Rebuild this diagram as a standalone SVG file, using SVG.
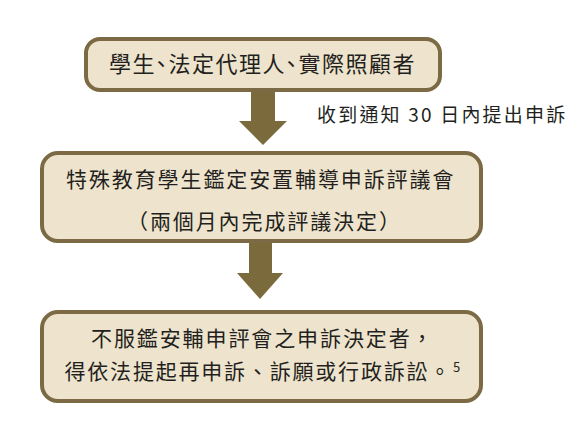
<svg xmlns="http://www.w3.org/2000/svg" width="583" height="422" viewBox="0 0 583 422">
<style>
.box{fill:#eee4cd;stroke:#7b6a44;stroke-width:4}
.arr{fill:#7a6a3c}
.t{font-family:"Noto Sans CJK TC","Noto Sans CJK SC",sans-serif;fill:#231f20}
</style>
<rect width="583" height="422" fill="#ffffff"/>
<g id="connectors">
<polygon class="arr" points="251,92 275,92 275,121 287,121 263,145 239,121 251,121"/>
<polygon class="arr" points="249,243 272,243 272,273 283,273 260,299 237,273 249,273"/>
<text class="t" x="317" y="122" font-size="19" letter-spacing="2.2">收到通知 30 日內提出申訴</text>
</g>
<g id="node1">
<rect class="box" x="86" y="39" width="354" height="51" rx="14"/>
<text class="t" x="109" y="72" font-size="22" letter-spacing="1.5">學生<tspan dx="-6">、</tspan><tspan dx="-5">法定代理人</tspan><tspan dx="-6">、</tspan><tspan dx="-5">實際照顧者</tspan></text>
</g>
<g id="node2">
<rect class="box" x="42" y="153" width="439" height="88" rx="16"/>
<text class="t" x="66" y="187" font-size="21" letter-spacing="1.9">特殊教育學生鑑定安置輔導申訴評議會</text>
<text class="t" x="127" y="229" font-size="21" letter-spacing="1.9">（兩個月內完成評議決定）</text>
</g>
<g id="node3">
<rect class="box" x="42" y="312" width="439" height="89" rx="16"/>
<text class="t" x="91" y="346" font-size="21" letter-spacing="1.9">不服鑑安輔申評會之申訴決定者，</text>
<text class="t" x="64.5" y="379" font-size="21" letter-spacing="1.8">得依法提起再申訴、訴願或行政訴訟。</text>
<text class="t" x="453" y="372" font-size="13">5</text>
</g>
</svg>
